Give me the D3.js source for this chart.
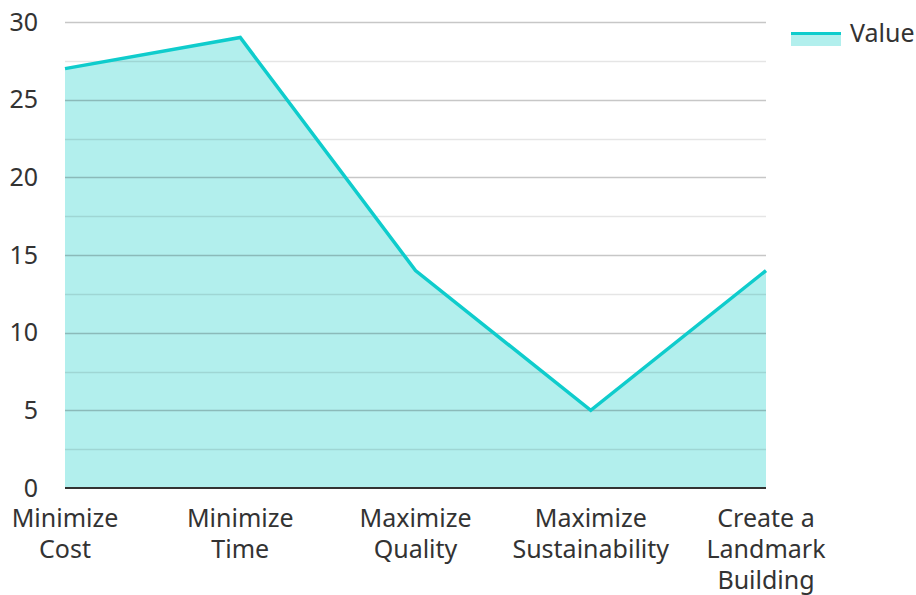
<!DOCTYPE html>
<html>
<head>
<meta charset="utf-8">
<script src="https://cdn.jsdelivr.net/npm/d3@7"></script>
<style>
  body { margin: 0; background: #fff; }
  svg text { font-family: 'Noto Sans', 'Open Sans', sans-serif; fill: #333; }
</style>
</head>
<body>
<div id="chart"></div>
<script>
const categories = [
  'Minimize Cost',
  'Minimize Time',
  'Maximize Quality',
  'Maximize Sustainability',
  'Create a Landmark Building',
];
const categoryLines = [
  ['Minimize', 'Cost'],
  ['Minimize', 'Time'],
  ['Maximize', 'Quality'],
  ['Maximize', 'Sustainability'],
  ['Create a', 'Landmark', 'Building'],
];
const values = [27, 29, 14, 5, 14];
const yTicks = [0, 5, 10, 15, 20, 25, 30];
const yMinorTicks = [2.5, 7.5, 12.5, 17.5, 22.5, 27.5];
const seriesName = 'Value';

const totalWidth = 916;
const totalHeight = 595;
const margin = { top: 22, right: 150, bottom: 107, left: 65 };
const width = totalWidth - margin.left - margin.right;
const height = totalHeight - margin.top - margin.bottom;

const lineColor = '#0fcccc';
const fillColor = '#b2efed';

const xScale = d3.scalePoint().domain(categories).range([0, width]);
const yScale = d3.scaleLinear().domain([0, 30]).range([height, 0]);

const svg = d3
  .select('#chart')
  .append('svg')
  .attr('width', totalWidth)
  .attr('height', totalHeight)
  .append('g')
  .attr('transform', `translate(${margin.left}, ${margin.top})`);

// Area fill
const data = categories.map((c, i) => ({ cat: c, value: values[i] }));
svg
  .append('path')
  .datum(data)
  .attr('fill', fillColor)
  .attr(
    'd',
    d3
      .area()
      .x((d) => xScale(d.cat))
      .y0(yScale(0))
      .y1((d) => yScale(d.value))
  );

// Grid lines (drawn over fill, semi-transparent)
svg
  .append('g')
  .selectAll('line')
  .data(yMinorTicks)
  .join('line')
  .attr('x1', 0)
  .attr('x2', width)
  .attr('y1', (d) => Math.round(yScale(d)) + 0.5)
  .attr('y2', (d) => Math.round(yScale(d)) + 0.5)
  .attr('stroke', '#000')
  .attr('stroke-opacity', 0.1)
  .attr('stroke-width', 1.5);

svg
  .append('g')
  .selectAll('line')
  .data(yTicks.filter((d) => d > 0))
  .join('line')
  .attr('x1', 0)
  .attr('x2', width)
  .attr('y1', (d) => Math.round(yScale(d)) + 0.5)
  .attr('y2', (d) => Math.round(yScale(d)) + 0.5)
  .attr('stroke', '#000')
  .attr('stroke-opacity', 0.22)
  .attr('stroke-width', 1.5);

// Line
svg
  .append('path')
  .datum(data)
  .attr('fill', 'none')
  .attr('stroke', lineColor)
  .attr('stroke-width', 3.5)
  .attr(
    'd',
    d3
      .line()
      .x((d) => xScale(d.cat))
      .y((d) => yScale(d.value))
  );

// Y axis
const yAxis = svg
  .append('g')
  .call(d3.axisLeft(yScale).tickValues(yTicks).tickSize(0).tickPadding(27));
yAxis.select('.domain').remove();
yAxis.attr('font-size', null).attr('font-family', null);
yAxis.selectAll('text').style('font-size', '25px').attr('fill', '#333');

// X axis line
svg
  .append('line')
  .attr('x1', 0)
  .attr('x2', width)
  .attr('y1', height)
  .attr('y2', height)
  .attr('stroke', '#333')
  .attr('stroke-width', 2);

// X labels (multi-line)
const xLabels = svg
  .append('g')
  .selectAll('text')
  .data(categories)
  .join('text')
  .attr('text-anchor', 'middle')
  .style('font-size', '25px')
  .attr('transform', (d) => `translate(${xScale(d)}, ${height + 39})`);

xLabels
  .selectAll('tspan')
  .data((d, i) => categoryLines[i])
  .join('tspan')
  .attr('x', 0)
  .attr('y', (d, i) => i * 31)
  .text((d) => d);

// Legend
const legend = svg
  .append('g')
  .attr('transform', `translate(${width + 25}, 0)`);
legend
  .append('rect')
  .attr('x', 0)
  .attr('y', 10)
  .attr('width', 50)
  .attr('height', 14)
  .attr('fill', fillColor);
legend
  .append('line')
  .attr('x1', 0)
  .attr('x2', 50)
  .attr('y1', 11.5)
  .attr('y2', 11.5)
  .attr('stroke', lineColor)
  .attr('stroke-width', 3);
legend
  .append('text')
  .attr('x', 59)
  .attr('y', 20)
  .style('font-size', '25px')
  .text(seriesName);
</script>
</body>
</html>
